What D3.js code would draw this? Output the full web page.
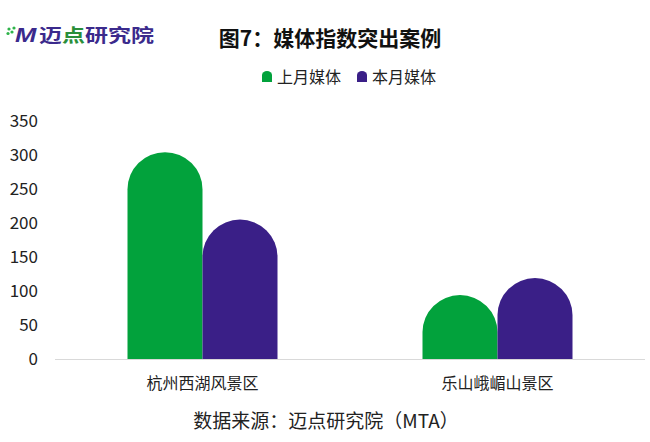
<!DOCTYPE html>
<html><head><meta charset="utf-8">
<script src="https://cdn.jsdelivr.net/npm/d3@7/dist/d3.min.js"></script>
<style>body{margin:0;background:#fff}svg{display:block}text{font-family:"Noto Sans CJK SC","Noto Sans",sans-serif}</style>
</head><body>
<script>
const categories = ["杭州西湖风景区", "乐山峨嵋山景区"];
const seriesNames = ["上月媒体", "本月媒体"];
const lastMonth = [304, 94];
const thisMonth = [205, 119];
const yTicks = [0, 50, 100, 150, 200, 250, 300, 350];
const colors = ["#02A23C", "#3A1F87"];

const W = 650, H = 442;
const svg = d3.select("body").append("svg").attr("width", W).attr("height", H);

const x = d3.scaleBand().domain(categories).range([55, 645]);
const xs = d3.scaleBand().domain(seriesNames).range([0, 150]);
const y = d3.scaleLinear().domain([0, 350]).range([359, 121]);

// logo
const logo = svg.append("g");
[[9,29],[12,32],[8,33.5],[14,28]].forEach(d => logo.append("circle").attr("cx", d[0]).attr("cy", d[1]).attr("r", 1.6).attr("fill", "#2fb34a"));
const lt = logo.append("text").attr("transform", "translate(15,42) scale(1.28,1)").attr("font-size", 18).attr("font-weight", "bold").attr("fill", "#3B2A8C");
lt.append("tspan").attr("font-style", "italic").attr("font-family", "Liberation Sans, Arial").attr("font-size", 20).text("M");
lt.append("tspan").attr("dx", 2).text("迈");
lt.append("tspan").attr("fill", "#2a8f3a").text("点");
lt.append("tspan").text("研究院");

// title
svg.append("text").attr("x", 330).attr("y", 46).attr("text-anchor", "middle")
  .attr("font-size", 21).attr("font-weight", "bold").attr("fill", "#111").text("图7：媒体指数突出案例");

// legend
const leg = svg.append("g");
const legX = [262, 357];
seriesNames.forEach((s, i) => {
  const lx = legX[i];
  leg.append("path").attr("d", `M${lx},82 L${lx},75 A5,4 0 0 1 ${lx+10},75 L${lx+10},82 Z`).attr("fill", colors[i]);
  leg.append("text").attr("x", lx + 15).attr("y", 83).attr("font-size", 16).attr("fill", "#222").text(s);
});

// y axis labels
svg.append("g").selectAll("text").data(yTicks).join("text")
  .attr("x", 38).attr("y", d => y(d)).attr("dy", "0.36em").attr("text-anchor", "end")
  .attr("font-size", 17).attr("fill", "#222").text(d => d);

// axis line
svg.append("line").attr("x1", 55).attr("x2", 645).attr("y1", 359.5).attr("y2", 359.5).attr("stroke", "#d9d9d9").attr("stroke-width", 1);

// bars
const data = [];
categories.forEach((c, ci) => {
  [lastMonth, thisMonth].forEach((arr, si) => data.push({c, s: seriesNames[si], v: arr[ci], si}));
});
function capPath(d) {
  const bw = 75;
  const x0 = x(d.c) + x.bandwidth() / 2 - 75 + xs(d.s);
  const x1 = x0 + bw;
  const y0 = y(0), yt = y(d.v);
  const h = Math.min(37, y0 - yt);
  return `M${x0},${y0} L${x0},${yt + h} A${bw/2},${h} 0 0 1 ${x1},${yt + h} L${x1},${y0} Z`;
}
svg.append("g").selectAll("path").data(data).join("path")
  .attr("d", capPath).attr("fill", d => colors[d.si]);

// category labels
svg.append("g").selectAll("text").data(categories).join("text")
  .attr("x", d => x(d) + x.bandwidth() / 2).attr("y", 389).attr("text-anchor", "middle")
  .attr("font-size", 16).attr("fill", "#222").text(d => d);

// source
svg.append("text").attr("x", 326).attr("y", 428).attr("text-anchor", "middle")
  .attr("font-size", 19).attr("fill", "#222").text("数据来源：迈点研究院（MTA）");
</script>
</body></html>
